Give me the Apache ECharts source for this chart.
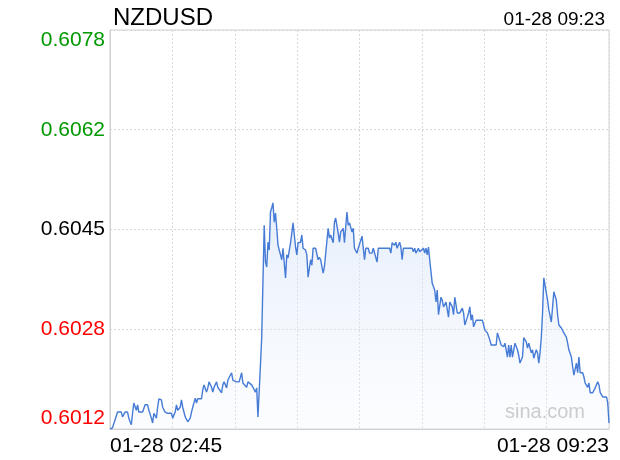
<!DOCTYPE html>
<html>
<head>
<meta charset="utf-8">
<script src="https://cdn.jsdelivr.net/npm/echarts@6/dist/echarts.min.js"></script>
<style>html,body{margin:0;padding:0;background:#fff;}#c{width:620px;height:460px;}</style>
</head>
<body>
<div id="c"></div>
<script>
var symbol = 'NZDUSD';
var lastTime = '01-28 09:23';
var startTime = '02:45';
// minutes after 02:45
var minutes = [0,2,4,6,9,10,12,14,15,16,17,18,19,21,22,23,26,28,30,31,33,34,35,37,38,39,41,42,44,46,47,49,50,52,53,54,56,57,58,60,61,62,64,65,66,68,69,70,73,74,75,77,78,79,81,82,83,85,86,87,89,90,91,93,94,95,97,98,99,101,103,105,106,107,109,110,111,113,114,116,117,118,120,121,123,124,125,126,127,128,129,130,131,132,133,134,136,137,138,140,141,142,144,145,146,148,149,150,152,153,154,156,157,158,160,161,162,164,166,167,168,170,171,172,174,175,176,178,179,180,182,183,184,186,187,188,189,190,191,193,194,195,197,198,199,201,202,203,204,206,207,209,210,211,213,214,217,221,223,224,225,227,228,229,231,232,233,234,237,241,242,243,244,246,247,248,250,251,252,253,254,255,257,258,259,260,261,262,264,265,266,268,269,270,271,273,274,275,277,278,279,281,282,283,285,286,287,288,289,290,292,297,298,299,301,302,303,304,308,309,310,312,313,314,315,317,318,319,320,321,323,325,326,327,329,330,332,333,334,336,337,338,340,341,342,343,344,345,346,348,349,350,352,353,354,356,357,358,360,361,362,364,365,366,368,369,370,372,373,374,375,377,378,379,381,382,383,385,387,389,390,391,392,393,396,397,398];
var prices = [0.60120,0.60122,0.60135,0.60148,0.60148,0.60140,0.60148,0.60148,0.60138,0.60132,0.60127,0.60146,0.60163,0.60151,0.60160,0.60148,0.60148,0.60160,0.60160,0.60151,0.60138,0.60130,0.60146,0.60138,0.60156,0.60170,0.60168,0.60156,0.60148,0.60146,0.60143,0.60146,0.60138,0.60148,0.60160,0.60151,0.60156,0.60168,0.60156,0.60140,0.60138,0.60132,0.60138,0.60148,0.60156,0.60171,0.60163,0.60170,0.60170,0.60185,0.60193,0.60181,0.60188,0.60198,0.60189,0.60181,0.60189,0.60198,0.60189,0.60188,0.60180,0.60193,0.60198,0.60188,0.60201,0.60204,0.60213,0.60201,0.60198,0.60198,0.60198,0.60213,0.60196,0.60198,0.60189,0.60198,0.60198,0.60193,0.60189,0.60181,0.60188,0.60140,0.60226,0.60271,0.60457,0.60396,0.60388,0.60429,0.60416,0.60479,0.60486,0.60494,0.60462,0.60477,0.60452,0.60424,0.60408,0.60400,0.60419,0.60370,0.60408,0.60403,0.60428,0.60429,0.60461,0.60421,0.60408,0.60428,0.60429,0.60441,0.60419,0.60416,0.60408,0.60371,0.60400,0.60391,0.60419,0.60419,0.60400,0.60404,0.60400,0.60378,0.60388,0.60391,0.60452,0.60436,0.60441,0.60428,0.60462,0.60469,0.60444,0.60429,0.60446,0.60452,0.60428,0.60454,0.60479,0.60457,0.60461,0.60446,0.60452,0.60419,0.60411,0.60419,0.60419,0.60439,0.60436,0.60400,0.60419,0.60419,0.60411,0.60411,0.60419,0.60419,0.60396,0.60419,0.60419,0.60419,0.60419,0.60411,0.60428,0.60424,0.60429,0.60419,0.60429,0.60421,0.60400,0.60419,0.60419,0.60419,0.60413,0.60419,0.60411,0.60419,0.60413,0.60413,0.60419,0.60411,0.60419,0.60408,0.60421,0.60400,0.60361,0.60358,0.60350,0.60330,0.60350,0.60309,0.60338,0.60333,0.60322,0.60330,0.60328,0.60305,0.60330,0.60322,0.60309,0.60338,0.60312,0.60309,0.60312,0.60320,0.60312,0.60292,0.60305,0.60312,0.60322,0.60300,0.60309,0.60289,0.60300,0.60300,0.60292,0.60284,0.60279,0.60279,0.60267,0.60259,0.60259,0.60279,0.60279,0.60259,0.60259,0.60256,0.60262,0.60239,0.60259,0.60239,0.60259,0.60239,0.60262,0.60251,0.60242,0.60229,0.60239,0.60271,0.60264,0.60254,0.60262,0.60246,0.60251,0.60237,0.60251,0.60246,0.60229,0.60246,0.60271,0.60312,0.60370,0.60345,0.60333,0.60317,0.60297,0.60322,0.60347,0.60333,0.60309,0.60292,0.60287,0.60284,0.60279,0.60272,0.60262,0.60251,0.60239,0.60223,0.60209,0.60229,0.60213,0.60239,0.60213,0.60213,0.60206,0.60196,0.60189,0.60196,0.60180,0.60180,0.60188,0.60198,0.60193,0.60180,0.60180,0.60173,0.60173,0.60163,0.60130];
var yLabels = ['0.6012','0.6028','0.6045','0.6062','0.6078'];
var yLabelColors = ['#ff0000','#ff0000','#000000','#009900','#009900'];
var xLabels = ['01-28 02:45','01-28 09:23'];
var prevClose = 0.6045;

var yMin = 0.6012, yMax = 0.6078, xMax = 398;
var data = minutes.map(function(m, i){ return [m, prices[i]]; });

var chart = echarts.init(document.getElementById('c'), null, {renderer:'canvas'});
var FONT = 'Liberation Sans, Arial, Helvetica, sans-serif';
chart.setOption({
  animation: false,
  backgroundColor: '#fff',
  title: [
    {text: symbol, left: 108, top: 1, textStyle:{fontFamily:FONT, fontSize:24, fontWeight:'normal', color:'#000'}},
    {text: lastTime, right: 10, top: 5, textStyle:{fontFamily:FONT, fontSize:19, fontWeight:'normal', color:'#000'}}
  ],
  grid: {left:110, top:30, right:11, bottom:31, show:true, borderColor:'#d0d0d0', borderWidth:1, backgroundColor:'transparent'},
  xAxis: {
    type:'value', min:0, max:xMax, interval: xMax/8,
    axisLine:{show:true, lineStyle:{color:'#d0d0d0'}},
    axisTick:{show:false},
    splitLine:{show:true, lineStyle:{color:'#d8d8d8', type:[2,2], width:1}},
    axisLabel:{
      show:true, margin:7, fontFamily:FONT, fontSize:21, color:'#000',
      alignMinLabel:'left', alignMaxLabel:'right', showMinLabel:true, showMaxLabel:true, hideOverlap:false,
      formatter:function(v){ if (v===0) return xLabels[0]; if (Math.abs(v-xMax)<1e-6) return xLabels[1]; return ''; }
    }
  },
  yAxis: {
    type:'value', min:yMin, max:yMax, interval:(yMax-yMin)/4,
    axisLine:{show:true, lineStyle:{color:'#d0d0d0'}},
    axisTick:{show:false},
    splitLine:{show:true, lineStyle:{color:'#d8d8d8', type:[2,2], width:1}},
    axisLabel:{
      margin:5, fontFamily:FONT, fontSize:21,
      verticalAlignMinLabel:'bottom', verticalAlignMaxLabel:'top',
      formatter:function(v, i){ return yLabels[i]; },
      color:function(v, i){ var k = Math.round((v - yMin)/((yMax-yMin)/4)); return yLabelColors[k]; }
    }
  },
  graphic: [{
    type:'text', right: 35, bottom: 38, z: 10,
    style:{text:'sina.com', fontFamily:FONT, fontSize:20, fill:'#cccccc'}
  }],
  series: [{
    type:'line', data:data, showSymbol:false, symbol:'none',
    lineStyle:{color:'#467bd6', width:1.4},
    areaStyle:{color: new echarts.graphic.LinearGradient(0,0,0,1,[
      {offset:0, color:'rgba(210,225,248,0.8)'},
      {offset:1, color:'rgba(240,245,253,0.35)'}
    ])},
    markLine:{
      silent:true, symbol:'none', label:{show:false},
      lineStyle:{color:'#a8a8a8', type:[5,2,1,2], width:1},
      data:[{yAxis: prevClose}]
    }
  }]
});
</script>
</body>
</html>
